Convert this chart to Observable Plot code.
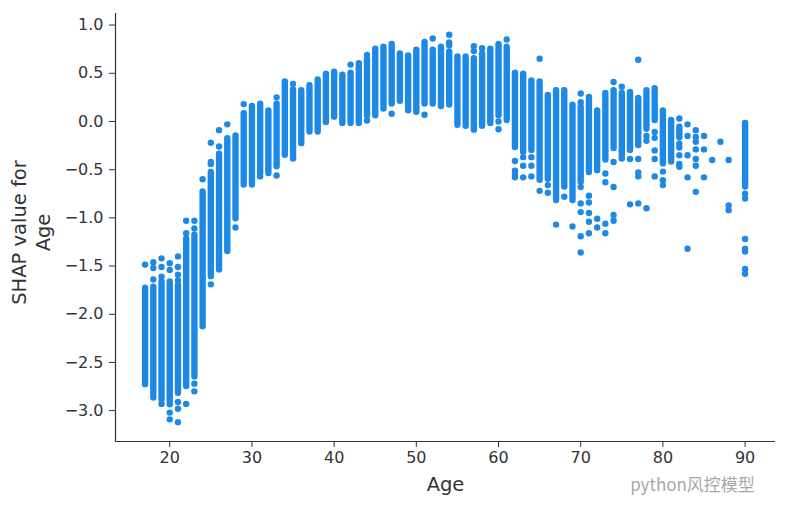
<!DOCTYPE html>
<html><head><meta charset="utf-8">
<script src="https://cdn.jsdelivr.net/npm/d3@7"></script>
<script src="https://cdn.jsdelivr.net/npm/@observablehq/plot@0.6"></script>
<style>html,body{margin:0;padding:0;background:#fff;}</style>
</head><body><div id="chart"></div>
<script>
// Dense vertical bands of SHAP values per age (low / high end of each column)
const bandAge  = [17,18,19,20,21,22,23,24,25,26,27,28,29,30,31,32,33,34,35,36,37,38,39,40,41,42,43,44,45,46,47,48,49,50,51,52,53,54,55,56,57,58,59,60,61,62,63,64,65,66,67,68,69,70,71,72,73,74,75,76,77,78,79,80,81,82,90];
const bandLow  = [-2.73,-2.87,-2.89,-2.94,-2.82,-2.75,-2.65,-2.13,-1.61,-1.54,-1.35,-1.01,-0.66,-0.66,-0.54,-0.54,-0.47,-0.35,-0.39,-0.23,-0.11,-0.11,-0.01,0.045,-0.02,-0.02,-0.02,0.06,0.06,0.13,0.18,0.21,0.11,0.12,0.18,0.18,0.155,0.17,-0.04,-0.05,-0.09,-0.05,-0.02,0.06,0.01,-0.27,-0.32,-0.30,-0.61,-0.60,-0.82,-0.68,-0.82,-0.63,-0.53,-0.51,-0.40,-0.28,-0.39,-0.30,-0.25,-0.08,0.01,-0.44,-0.42,-0.17,-0.68];
const bandHigh = [-1.73,-1.72,-1.665,-1.665,-1.70,-1.22,-1.18,-0.73,-0.53,-0.34,-0.18,-0.15,0.08,0.155,0.18,0.11,0.18,0.41,0.33,0.32,0.37,0.43,0.49,0.51,0.48,0.50,0.60,0.64,0.75,0.77,0.80,0.70,0.68,0.74,0.82,0.74,0.77,0.72,0.67,0.67,0.65,0.70,0.75,0.80,0.77,0.50,0.49,0.42,0.41,0.27,0.32,0.32,0.17,0.15,0.25,0.11,0.29,0.32,0.29,0.30,0.24,0.32,0.34,0.11,0.01,-0.06,-0.02];

// Individual points standing apart from the bands
const extraAge  = [17,18,19,20,21,22,23,24,25,26,27,28,29,31,33,35,42,44,47,50,51,52,54,57,58,60,61,62,63,64,65,66,67,68,69,70,71,72,73,74,75,76,77,78,79,80,82,83,84,85,86,87,88,90];
const extraShap = [
  [-1.485],
  [-1.46,-1.52,-1.64],
  [-1.42,-1.51,-1.61,-2.93],
  [-1.47,-1.54,-3.02,-3.09],
  [-1.40,-1.51,-1.59,-1.65,-2.91,-2.98,-3.12],
  [-1.03,-1.16,-2.93],
  [-1.03,-1.11,-2.72,-2.80],
  [-0.60],
  [-0.22,-0.42,-0.44,-1.69],
  [-0.09,-0.26],
  [-0.03],
  [-1.10],
  [0.18],
  [-0.57],
  [0.25,-0.56],
  [0.39],
  [0.59],
  [0.69,0.01],
  [0.08],
  [0.10],
  [0.07],
  [0.86],
  [0.90,0.82,0.79],
  [0.78,0.73],
  [0.76],
  [0.00,-0.08],
  [0.85],
  [-0.41,-0.51,-0.55,-0.58],
  [-0.37,-0.46,-0.58],
  [-0.37,-0.46,-0.57],
  [0.65,-0.72],
  [-0.66,-0.74],
  [-1.07],
  [-0.78],
  [-1.09],
  [0.29,0.20,-0.68,-0.85,-0.94,-1.19,-1.36],
  [-0.77,-0.84,-0.95,-1.04,-1.16],
  [-1.01,-1.10],
  [-0.54,-0.63,-1.06,-1.16],
  [0.41,-0.42,-0.68,-0.97,-1.03],
  [0.36],
  [-0.39,-0.86],
  [0.64,-0.39,-0.53,-0.57,-0.85],
  [-0.15,-0.20,-0.90],
  [-0.11,-0.17,-0.30,-0.39,-0.57],
  [-0.52,-0.61,-0.66],
  [0.03,-0.23,-0.27,-0.35,-0.44,-0.47],
  [-0.03,-0.15,-0.35,-0.58,-1.32],
  [-0.09,-0.16,-0.21,-0.29,-0.39,-0.46,-0.73],
  [-0.15,-0.29,-0.58],
  [-0.40],
  [-0.21],
  [-0.40,-0.87,-0.92],
  [-0.75,-0.80,-1.22,-1.32,-1.35,-1.53,-1.58]
];

const xTicks = [20,30,40,50,60,70,80,90];
const yTicks = [-3,-2.5,-2,-1.5,-1,-0.5,0,0.5,1];
const xDomain = [13.4, 93.7];
const yDomain = [-3.32, 1.12];
const xLabel = "Age";
const yLabelLines = ["SHAP value for", "Age"];
const watermark = "python风控模型";

const bands = bandAge.map((a, i) => ({age: a, lo: bandLow[i], hi: bandHigh[i]}));
const points = extraAge.flatMap((a, i) => extraShap[i].map(v => ({age: a, shap: v})));
const blue = "#1E88E5";
const ink = "#333333";

const chart = Plot.plot({
  width: 788, height: 506,
  marginLeft: 115, marginRight: 13, marginTop: 13, marginBottom: 65,
  style: {fontFamily: "DejaVu Sans", fontSize: "16px", color: ink, background: "#fff"},
  x: {domain: xDomain},
  y: {domain: yDomain},
  marks: [
    Plot.ruleX(bands, {x: "age", y1: "lo", y2: "hi", stroke: blue, strokeWidth: 6.4, strokeLinecap: "round"}),
    Plot.dot(points, {x: "age", y: "shap", r: 3.2, fill: blue}),
    Plot.axisX({ticks: xTicks, tickSize: 6, tickPadding: 4, label: null, stroke: ink, fill: ink, fontSize: 16}),
    Plot.axisY({ticks: yTicks, tickSize: 6, tickPadding: 6, tickFormat: d3.format(".1f"), label: null, stroke: ink, fill: ink, fontSize: 16}),
    Plot.ruleX([xDomain[0]], {stroke: ink, strokeWidth: 1.2}),
    Plot.ruleY([yDomain[0]], {stroke: ink, strokeWidth: 1.2}),
    Plot.text([xLabel], {text: d => d, frameAnchor: "bottom", dy: 43, lineAnchor: "middle", fontSize: 19.5, fill: ink}),
    Plot.text([yLabelLines[0]], {text: d => d, frameAnchor: "left", rotate: -90, dx: -96, dy: 5, lineAnchor: "middle", textAnchor: "middle", fontSize: 19.5, fill: ink}),
    Plot.text([yLabelLines[1]], {text: d => d, frameAnchor: "left", rotate: -90, dx: -72, dy: 5, lineAnchor: "middle", textAnchor: "middle", fontSize: 19.5, fill: ink}),
    Plot.text([watermark], {text: d => d, frameAnchor: "bottom-right", dx: -83, dy: 44, lineAnchor: "middle", textAnchor: "middle", fontSize: 17, fill: "#a8a8a8", stroke: "#ffffff", strokeWidth: 3, fontFamily: "Noto Sans CJK SC"})
  ]
});
document.getElementById("chart").appendChild(chart);
</script>
</body></html>
